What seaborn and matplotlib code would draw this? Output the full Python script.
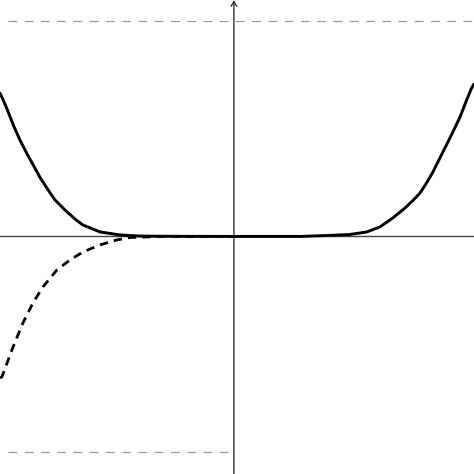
import pandas as pd
import matplotlib
matplotlib.use('Agg')
import matplotlib.pyplot as plt
import seaborn as sns

# Values (axes cross at 0, dashed guides at +/-1)
even_x = [-0.987, -0.983, -0.959, -0.931, -0.903, -0.875, -0.847, -0.819,
          -0.790, -0.755, -0.713, -0.671, -0.637, -0.565, -0.481, -0.397,
          -0.312, 0.0, 0.278, 0.405, 0.489, 0.561, 0.616, 0.671, 0.722,
          0.755, 0.785, 0.813, 0.840, 0.869, 0.897, 0.924, 0.954, 0.982,
          1.003, 1.013]
even_y = [0.664, 0.655, 0.595, 0.516, 0.447, 0.387, 0.331, 0.275,
          0.225, 0.169, 0.123, 0.081, 0.053, 0.021, 0.007, 0.002,
          0.001, 0.0, 0.0, 0.005, 0.009, 0.021, 0.044, 0.086, 0.132,
          0.166, 0.201, 0.248, 0.299, 0.363, 0.424, 0.484, 0.553, 0.632,
          0.688, 0.706]

odd_x = [-0.987, -0.979, -0.932, -0.890, -0.848, -0.806, -0.747, -0.692,
         -0.637, -0.565, -0.494, -0.439, -0.312, 0.0]
odd_y = [-0.655, -0.650, -0.512, -0.400, -0.308, -0.234, -0.155, -0.109,
         -0.072, -0.039, -0.016, -0.005, 0.0, 0.0]

upper_guide = 1.0
lower_guide = -1.0

sns.set_style('white')
fig, ax = plt.subplots(figsize=(4.74, 4.74), dpi=100)
fig.subplots_adjust(left=0, right=1, bottom=0, top=1)

ax.set_xlim(-0.987, 1.013)
ax.set_ylim(-1.1, 1.095)
for s in ax.spines.values():
    s.set_visible(False)
ax.set_xticks([])
ax.set_yticks([])

# guide lines
ax.hlines(upper_guide, -0.953, 1.013, color='#999999', lw=0.9,
          linestyles=(0, (7, 6)), zorder=1)
ax.hlines(lower_guide, -0.953, -0.02, color='#999999', lw=0.9,
          linestyles=(0, (7, 6)), zorder=1)

# axes
ax.axhline(0, color='#444444', lw=1.0, zorder=2)
ax.annotate('', xy=(0, 1.095), xytext=(0, -1.1),
            arrowprops=dict(arrowstyle='->,head_length=0.35,head_width=0.2',
                            color='#333333', lw=1.0, shrinkA=0, shrinkB=0),
            zorder=2)

even_df = pd.DataFrame({'x': even_x, 'y': even_y})
odd_df = pd.DataFrame({'x': odd_x, 'y': odd_y})
sns.lineplot(data=odd_df, x='x', y='y', ax=ax, color='black', lw=2.0,
             sort=False, zorder=3, dashes=False, linestyle=(0, (3, 2.2)))
sns.lineplot(data=even_df, x='x', y='y', ax=ax, color='black', lw=2.1,
             sort=False, zorder=4)
ax.set_xlabel('')
ax.set_ylabel('')

fig.savefig('out.png', dpi=100)
